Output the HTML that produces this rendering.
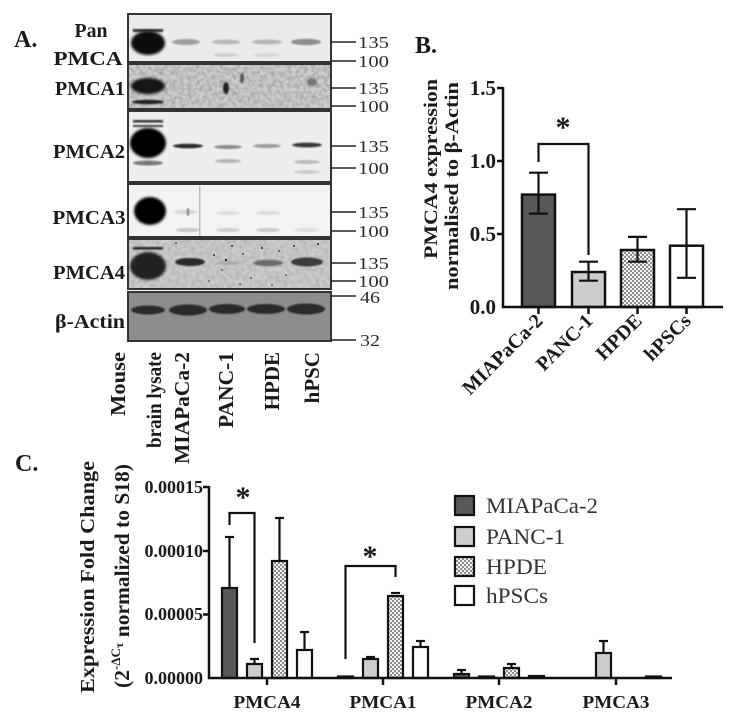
<!DOCTYPE html>
<html><head><meta charset="utf-8"><style>
html,body{margin:0;padding:0;background:#fff;}
svg{display:block;}
text{font-family:"Liberation Serif",serif;}
.b{font-weight:bold;fill:#1a1a1a;}
</style></head><body>
<svg width="734" height="717" viewBox="0 0 734 717" xmlns="http://www.w3.org/2000/svg">
<defs>
<pattern id="chk" width="4" height="4" patternUnits="userSpaceOnUse">
<rect width="4" height="4" fill="#f2f2f2"/>
<rect width="2" height="2" fill="#8c8c8c"/>
<rect x="2" y="2" width="2" height="2" fill="#8c8c8c"/>
</pattern>
<filter id="bl" x="-40%" y="-80%" width="180%" height="260%"><feGaussianBlur stdDeviation="1.4"/></filter>
<filter id="bs" x="-40%" y="-80%" width="180%" height="260%"><feGaussianBlur stdDeviation="0.7"/></filter>
<filter id="nz" x="0" y="0" width="100%" height="100%"><feTurbulence type="fractalNoise" baseFrequency="0.25" numOctaves="2" seed="7"/><feColorMatrix type="matrix" values="0 0 0 0 0.25  0 0 0 0 0.25  0 0 0 0 0.25  1.3 0 0 0 -0.45"/></filter>
</defs>

<!-- ================= PANEL A ================= -->
<text class="b" x="14" y="47" font-size="24">A.</text>

<text class="b" x="91" y="37" font-size="20" text-anchor="middle" textLength="33" lengthAdjust="spacingAndGlyphs">Pan</text>
<text class="b" x="88" y="65" font-size="20" text-anchor="middle" textLength="69" lengthAdjust="spacingAndGlyphs">PMCA</text>
<text class="b" x="90" y="95" font-size="20" text-anchor="middle" textLength="70" lengthAdjust="spacingAndGlyphs">PMCA1</text>
<text class="b" x="89" y="158" font-size="20" text-anchor="middle" textLength="72" lengthAdjust="spacingAndGlyphs">PMCA2</text>
<text class="b" x="89" y="224" font-size="20" text-anchor="middle" textLength="73" lengthAdjust="spacingAndGlyphs">PMCA3</text>
<text class="b" x="89" y="279" font-size="20" text-anchor="middle" textLength="72" lengthAdjust="spacingAndGlyphs">PMCA4</text>
<text class="b" x="90" y="328" font-size="20" text-anchor="middle" textLength="70" lengthAdjust="spacingAndGlyphs">β-Actin</text>

<!-- Pan PMCA blot -->
<rect x="128" y="14" width="203" height="48" fill="#ebebeb"/>
<rect x="133" y="29" width="30" height="3" fill="#333" filter="url(#bs)"/>
<ellipse cx="148" cy="43" rx="17" ry="12" fill="#111" filter="url(#bl)"/>
<ellipse cx="186" cy="42" rx="14" ry="3" fill="#9d9d9d" filter="url(#bs)"/>
<ellipse cx="226" cy="42" rx="14" ry="2.5" fill="#b8b8b8" filter="url(#bs)"/>
<ellipse cx="267" cy="42" rx="15" ry="2.5" fill="#b5b5b5" filter="url(#bs)"/>
<ellipse cx="306" cy="42" rx="15" ry="3.2" fill="#8e8e8e" filter="url(#bs)"/>
<ellipse cx="226" cy="55" rx="13" ry="2" fill="#d0d0d0" filter="url(#bs)"/>
<ellipse cx="267" cy="55" rx="13" ry="2" fill="#d5d5d5" filter="url(#bs)"/>
<rect x="128" y="14" width="203" height="48" fill="none" stroke="#333" stroke-width="2"/>

<!-- PMCA1 blot -->
<rect x="128" y="64" width="203" height="45" fill="#cdcdcd"/>
<rect x="128" y="64" width="203" height="45" filter="url(#nz)"/>
<ellipse cx="148" cy="86" rx="17" ry="8" fill="#151515" filter="url(#bl)"/>
<ellipse cx="148" cy="102" rx="16" ry="2.2" fill="#222" filter="url(#bs)"/>
<ellipse cx="226" cy="88" rx="3" ry="6" fill="#222" filter="url(#bs)"/>
<ellipse cx="242" cy="78" rx="2" ry="5" fill="#555" filter="url(#bs)"/>
<ellipse cx="312" cy="82" rx="5" ry="4" fill="#777" filter="url(#bs)"/>
<rect x="128" y="64" width="203" height="45" fill="none" stroke="#333" stroke-width="2"/>

<!-- PMCA2 blot -->
<rect x="128" y="111" width="203" height="71" fill="#eeeeee"/>
<rect x="133" y="120" width="30" height="2.5" fill="#333" filter="url(#bs)"/>
<rect x="133" y="125" width="30" height="2" fill="#444" filter="url(#bs)"/>
<ellipse cx="148" cy="143" rx="18" ry="15" fill="#000" filter="url(#bl)"/>
<ellipse cx="148" cy="163" rx="15" ry="2.5" fill="#777" filter="url(#bs)"/>
<ellipse cx="188" cy="146" rx="15" ry="2.3" fill="#2c2c2c" filter="url(#bs)"/>
<ellipse cx="228" cy="147" rx="14" ry="2" fill="#8a8a8a" filter="url(#bs)"/>
<ellipse cx="267" cy="146" rx="14" ry="2" fill="#9a9a9a" filter="url(#bs)"/>
<ellipse cx="307" cy="145" rx="15" ry="2.4" fill="#3a3a3a" filter="url(#bs)"/>
<ellipse cx="228" cy="161" rx="13" ry="2" fill="#b5b5b5" filter="url(#bs)"/>
<ellipse cx="307" cy="162" rx="13" ry="2" fill="#bbb" filter="url(#bs)"/>
<ellipse cx="307" cy="172" rx="13" ry="2" fill="#ccc" filter="url(#bs)"/>
<rect x="128" y="111" width="203" height="71" fill="none" stroke="#333" stroke-width="2"/>

<!-- PMCA3 blot -->
<rect x="128" y="184" width="203" height="53" fill="#f3f3f3"/>
<ellipse cx="150" cy="211" rx="16" ry="14" fill="#000" filter="url(#bl)"/>
<ellipse cx="186" cy="212" rx="12" ry="2" fill="#d5d5d5" filter="url(#bs)"/>
<ellipse cx="188" cy="230" rx="12" ry="2" fill="#c4c4c4" filter="url(#bs)"/>
<ellipse cx="228" cy="213" rx="12" ry="2" fill="#dedede" filter="url(#bs)"/>
<ellipse cx="228" cy="230" rx="12" ry="2" fill="#cfcfcf" filter="url(#bs)"/>
<ellipse cx="268" cy="213" rx="12" ry="2" fill="#dcdcdc" filter="url(#bs)"/>
<ellipse cx="268" cy="230" rx="12" ry="2" fill="#c9c9c9" filter="url(#bs)"/>
<ellipse cx="306" cy="230" rx="12" ry="2" fill="#dedede" filter="url(#bs)"/>
<rect x="199" y="186" width="1.5" height="50" fill="#bbb"/>
<ellipse cx="188" cy="212" rx="1.5" ry="4" fill="#999"/>
<rect x="128" y="184" width="203" height="53" fill="none" stroke="#333" stroke-width="2"/>

<!-- PMCA4 blot -->
<rect x="128" y="239" width="203" height="50" fill="#cccccc"/>
<rect x="128" y="239" width="203" height="50" filter="url(#nz)" opacity="0.6"/>
<rect x="133" y="247" width="30" height="2.5" fill="#222" filter="url(#bs)"/>
<ellipse cx="148" cy="266" rx="18" ry="14" fill="#222" filter="url(#bl)"/>
<ellipse cx="190" cy="262" rx="15" ry="4" fill="#2a2a2a" filter="url(#bs)"/>
<ellipse cx="228" cy="263" rx="12" ry="2" fill="#aaa" filter="url(#bs)"/>
<ellipse cx="268" cy="263" rx="15" ry="3.2" fill="#6c6c6c" filter="url(#bs)"/>
<ellipse cx="307" cy="262" rx="16" ry="4.5" fill="#3a3a3a" filter="url(#bs)"/>
<g fill="#222">
<circle cx="176" cy="243" r="0.9"/><circle cx="214" cy="255" r="1"/><circle cx="222" cy="270" r="0.8"/><circle cx="232" cy="246" r="1"/><circle cx="243" cy="254" r="0.9"/><circle cx="251" cy="278" r="0.8"/><circle cx="262" cy="248" r="1"/><circle cx="279" cy="251" r="0.9"/><circle cx="286" cy="275" r="0.8"/><circle cx="294" cy="246" r="1"/><circle cx="318" cy="244" r="1"/><circle cx="209" cy="281" r="0.8"/><circle cx="240" cy="284" r="0.8"/><circle cx="272" cy="285" r="0.8"/><circle cx="226" cy="260" r="1.2"/>
</g>
<rect x="128" y="239" width="203" height="50" fill="none" stroke="#333" stroke-width="2"/>

<!-- Actin blot -->
<rect x="128" y="292" width="203" height="49" fill="#8d8d8d"/>
<ellipse cx="148" cy="310" rx="17" ry="4.5" fill="#2c2c2c" filter="url(#bs)"/>
<ellipse cx="188" cy="310" rx="19" ry="5.5" fill="#2a2a2a" filter="url(#bs)"/>
<ellipse cx="227" cy="309" rx="18" ry="5" fill="#2c2c2c" filter="url(#bs)"/>
<ellipse cx="266" cy="309" rx="19" ry="5" fill="#2c2c2c" filter="url(#bs)"/>
<ellipse cx="306" cy="309" rx="19" ry="5.5" fill="#292929" filter="url(#bs)"/>
<rect x="128" y="292" width="203" height="49" fill="none" stroke="#333" stroke-width="2"/>

<!-- markers -->
<g stroke="#222" stroke-width="1.4">
<line x1="331" y1="42" x2="356" y2="42"/><line x1="331" y1="61" x2="356" y2="61"/>
<line x1="331" y1="88" x2="356" y2="88"/><line x1="331" y1="106" x2="356" y2="106"/>
<line x1="331" y1="146" x2="356" y2="146"/><line x1="331" y1="168" x2="356" y2="168"/>
<line x1="331" y1="212" x2="356" y2="212"/><line x1="331" y1="231" x2="356" y2="231"/>
<line x1="331" y1="263" x2="356" y2="263"/><line x1="331" y1="281" x2="356" y2="281"/>
<line x1="331" y1="296" x2="356" y2="296"/><line x1="331" y1="340" x2="356" y2="340"/>
</g>
<g font-size="17" fill="#2a2a2a">
<text x="358" y="48" textLength="31" lengthAdjust="spacingAndGlyphs">135</text>
<text x="358" y="67" textLength="31" lengthAdjust="spacingAndGlyphs">100</text>
<text x="358" y="94" textLength="31" lengthAdjust="spacingAndGlyphs">135</text>
<text x="358" y="112" textLength="31" lengthAdjust="spacingAndGlyphs">100</text>
<text x="358" y="152" textLength="31" lengthAdjust="spacingAndGlyphs">135</text>
<text x="358" y="174" textLength="31" lengthAdjust="spacingAndGlyphs">100</text>
<text x="358" y="218" textLength="31" lengthAdjust="spacingAndGlyphs">135</text>
<text x="358" y="237" textLength="31" lengthAdjust="spacingAndGlyphs">100</text>
<text x="358" y="269" textLength="31" lengthAdjust="spacingAndGlyphs">135</text>
<text x="358" y="287" textLength="31" lengthAdjust="spacingAndGlyphs">100</text>
<text x="360" y="303" textLength="20" lengthAdjust="spacingAndGlyphs">46</text>
<text x="360" y="346" textLength="20" lengthAdjust="spacingAndGlyphs">32</text>
</g>

<!-- lane labels -->
<g class="b" font-size="21" text-anchor="end">
<text transform="translate(125,352) rotate(-90)" textLength="64" lengthAdjust="spacingAndGlyphs">Mouse</text>
<text transform="translate(161,352) rotate(-90)" textLength="96" lengthAdjust="spacingAndGlyphs">brain lysate</text>
<text transform="translate(189,352) rotate(-90)" textLength="112" lengthAdjust="spacingAndGlyphs">MIAPaCa-2</text>
<text transform="translate(233,352) rotate(-90)" textLength="76" lengthAdjust="spacingAndGlyphs">PANC-1</text>
<text transform="translate(279,352) rotate(-90)">HPDE</text>
<text transform="translate(319,352) rotate(-90)">hPSC</text>
</g>

<!-- ================= PANEL B ================= -->
<text class="b" x="415" y="53" font-size="24">B.</text>
<text class="b" font-size="19" text-anchor="middle" transform="translate(437,169) rotate(-90)" textLength="180" lengthAdjust="spacingAndGlyphs">PMCA4 expression</text>
<text class="b" font-size="19" text-anchor="middle" transform="translate(458,186) rotate(-90)" textLength="208" lengthAdjust="spacingAndGlyphs">normalised to β-Actin</text>

<g class="b" font-size="21" text-anchor="end">
<text x="496" y="95">1.5</text>
<text x="496" y="168">1.0</text>
<text x="496" y="241">0.5</text>
<text x="496" y="314">0.0</text>
</g>
<g stroke="#111" stroke-width="2.5">
<rect x="522" y="194.6" width="33" height="112.4" fill="#585858"/>
<rect x="572" y="272" width="33" height="35" fill="#cdcdcd"/>
<rect x="621" y="250" width="33" height="57" fill="url(#chk)"/>
<rect x="670" y="245.7" width="33" height="61.3" fill="#fff"/>
</g>
<g stroke="#111" stroke-width="2.2" fill="none">
<line x1="538.5" y1="172.7" x2="538.5" y2="213.6"/><line x1="529" y1="172.7" x2="548" y2="172.7"/><line x1="529" y1="213.6" x2="548" y2="213.6"/>
<line x1="588.5" y1="261.7" x2="588.5" y2="280.7"/><line x1="579" y1="261.7" x2="598" y2="261.7"/><line x1="579" y1="280.7" x2="598" y2="280.7"/>
<line x1="637.5" y1="236.9" x2="637.5" y2="261.7"/><line x1="628" y1="236.9" x2="647" y2="236.9"/><line x1="628" y1="261.7" x2="647" y2="261.7"/>
<line x1="686.5" y1="209.2" x2="686.5" y2="277.8"/><line x1="677" y1="209.2" x2="696" y2="209.2"/><line x1="677" y1="277.8" x2="696" y2="277.8"/>
<polyline points="538.5,162 538.5,144 588.5,144 588.5,255"/>
</g>
<text class="b" x="563" y="137" font-size="30" text-anchor="middle">*</text>
<g stroke="#111" stroke-width="2.5" fill="none">
<polyline points="503,87 503,307 723,307"/>
<line x1="497" y1="88" x2="503" y2="88"/><line x1="497" y1="161" x2="503" y2="161"/><line x1="497" y1="234" x2="503" y2="234"/>
<line x1="538.5" y1="307" x2="538.5" y2="314"/><line x1="588.5" y1="307" x2="588.5" y2="314"/><line x1="637.5" y1="307" x2="637.5" y2="314"/><line x1="686.5" y1="307" x2="686.5" y2="314"/>
</g>
<g class="b" font-size="20" text-anchor="end">
<text transform="translate(544,322) rotate(-45)">MIAPaCa-2</text>
<text transform="translate(594,322) rotate(-45)">PANC-1</text>
<text transform="translate(643,322) rotate(-45)">HPDE</text>
<text transform="translate(692,322) rotate(-45)">hPSCs</text>
</g>

<!-- ================= PANEL C ================= -->
<text class="b" x="15" y="471" font-size="24">C.</text>
<text class="b" font-size="20" text-anchor="middle" transform="translate(94,577) rotate(-90)" textLength="232" lengthAdjust="spacingAndGlyphs">Expression Fold Change</text>
<text class="b" font-size="21.5" text-anchor="middle" transform="translate(129,576) rotate(-90)">(2<tspan font-size="13" dy="-9">-ΔC</tspan><tspan font-size="12" dy="3">τ</tspan><tspan dy="6"> normalized to S18)</tspan></text>

<g class="b" font-size="18" text-anchor="end">
<text x="203" y="493">0.00015</text>
<text x="203" y="557">0.00010</text>
<text x="203" y="620">0.00005</text>
<text x="203" y="684">0.00000</text>
</g>

<g stroke="#111" stroke-width="2.2">
<rect x="222" y="588" width="15" height="90" fill="#585858"/>
<rect x="247" y="664" width="15" height="14" fill="#cdcdcd"/>
<rect x="272" y="561" width="15" height="117" fill="url(#chk)"/>
<rect x="297" y="650" width="15" height="28" fill="#fff"/>
<rect x="338" y="676.5" width="15" height="1.5" fill="#585858"/>
<rect x="363" y="659" width="15" height="19" fill="#cdcdcd"/>
<rect x="388" y="596" width="15" height="82" fill="url(#chk)"/>
<rect x="413" y="647" width="15" height="31" fill="#fff"/>
<rect x="454" y="674" width="15" height="4" fill="#585858"/>
<rect x="479" y="676.5" width="15" height="1.5" fill="#cdcdcd"/>
<rect x="504" y="668" width="15" height="10" fill="url(#chk)"/>
<rect x="529" y="676" width="15" height="2" fill="#fff"/>
<rect x="596" y="653" width="15" height="25" fill="#cdcdcd"/>
<rect x="646" y="676.5" width="15" height="1.5" fill="#fff"/>
</g>
<g stroke="#111" stroke-width="2.2" fill="none">
<line x1="229.5" y1="537" x2="229.5" y2="588"/><line x1="225" y1="537" x2="234" y2="537"/>
<line x1="254.5" y1="659" x2="254.5" y2="664"/><line x1="250" y1="659" x2="259" y2="659"/>
<line x1="279.5" y1="518" x2="279.5" y2="561"/><line x1="275" y1="518" x2="284" y2="518"/>
<line x1="304.5" y1="632" x2="304.5" y2="650"/><line x1="300" y1="632" x2="309" y2="632"/>
<line x1="366" y1="657" x2="375" y2="657"/>
<line x1="391" y1="593" x2="400" y2="593"/>
<line x1="420.5" y1="641" x2="420.5" y2="647"/><line x1="416" y1="641" x2="425" y2="641"/>
<line x1="461.5" y1="670" x2="461.5" y2="674"/><line x1="457" y1="670" x2="466" y2="670"/>
<line x1="511.5" y1="664" x2="511.5" y2="668"/><line x1="507" y1="664" x2="516" y2="664"/>
<line x1="603.5" y1="641" x2="603.5" y2="653"/><line x1="599" y1="641" x2="608" y2="641"/>
<polyline points="229.5,525 229.5,513 254.5,513 254.5,643"/>
<polyline points="345.5,659 345.5,566 395.5,566 395.5,577"/>
</g>
<text class="b" x="243" y="507" font-size="30" text-anchor="middle">*</text>
<text class="b" x="370" y="566" font-size="30" text-anchor="middle">*</text>

<g stroke="#111" stroke-width="2.5" fill="none">
<polyline points="209,486 209,678 672,678"/>
<line x1="203" y1="487" x2="209" y2="487"/><line x1="203" y1="551" x2="209" y2="551"/><line x1="203" y1="614.5" x2="209" y2="614.5"/>
<line x1="267" y1="678" x2="267" y2="685"/><line x1="383" y1="678" x2="383" y2="685"/><line x1="499" y1="678" x2="499" y2="685"/><line x1="616" y1="678" x2="616" y2="685"/>
</g>
<g class="b" font-size="18" text-anchor="middle">
<text x="267" y="708" textLength="67" lengthAdjust="spacingAndGlyphs">PMCA4</text>
<text x="383" y="708" textLength="67" lengthAdjust="spacingAndGlyphs">PMCA1</text>
<text x="499" y="708" textLength="67" lengthAdjust="spacingAndGlyphs">PMCA2</text>
<text x="616" y="708" textLength="67" lengthAdjust="spacingAndGlyphs">PMCA3</text>
</g>

<g stroke="#111" stroke-width="2.2">
<rect x="455" y="496" width="19" height="19" fill="#585858"/>
<rect x="455" y="527" width="19" height="19" fill="#cdcdcd"/>
<rect x="455" y="557" width="19" height="19" fill="url(#chk)"/>
<rect x="455" y="586" width="19" height="19" fill="#fff"/>
</g>
<g font-size="22.5" fill="#333">
<text x="486" y="513" textLength="112" lengthAdjust="spacingAndGlyphs">MIAPaCa-2</text>
<text x="486" y="544" textLength="79" lengthAdjust="spacingAndGlyphs">PANC-1</text>
<text x="486" y="574" textLength="61" lengthAdjust="spacingAndGlyphs">HPDE</text>
<text x="486" y="603" textLength="62" lengthAdjust="spacingAndGlyphs">hPSCs</text>
</g>
</svg>
</body></html>
